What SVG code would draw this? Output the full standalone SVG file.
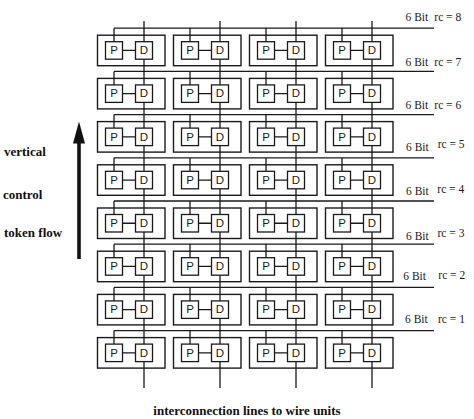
<svg xmlns="http://www.w3.org/2000/svg" xmlns:xlink="http://www.w3.org/1999/xlink" width="474" height="419" viewBox="0 0 474 419">
<style>
.bg{fill:#fff}
.ln{fill:none;stroke:#1a1a1a;stroke-width:1.3}
.outer{fill:none;stroke:#1a1a1a;stroke-width:1.4}
.unit{fill:#fff;stroke:#1a1a1a;stroke-width:1.3}
.pd{font-family:"Liberation Sans",Arial,sans-serif;font-size:11.5px;fill:#1a1a1a;text-anchor:middle}
.lab{font-family:"Liberation Serif","Times New Roman",serif;font-size:11.5px;fill:#1a1a1a}
.bold{font-family:"Liberation Serif","Times New Roman",serif;font-size:13px;font-weight:bold;fill:#111}
</style>
<defs>
<marker id="ah" viewBox="0 0 22 12" refX="0.5" refY="6" markerWidth="22" markerHeight="12" markerUnits="userSpaceOnUse" orient="auto">
<path d="M0 0L22 6L0 12Z" fill="#111"/>
</marker>
<g id="cell">
<rect class="outer" x="-46.5" y="0" width="67.5" height="30.5"/>
<rect class="unit" x="-38.5" y="6.5" width="17" height="17.5"/>
<text class="pd" x="-30" y="19">P</text>
<rect class="unit" x="-8.5" y="6.5" width="17" height="17.5"/>
<text class="pd" x="0" y="19">D</text>
</g>
</defs>
<rect class="bg" x="0" y="0" width="474" height="419"/>
<g id="connectors">
<path class="ln" d="M144 21V388M220 21V388M296 21V388M372 21V388"/>
<path class="ln" d="M114 28.2H434M114 28.2V41.7M190 28.2V41.7M266 28.2V41.7M342 28.2V41.7M122.5 50.45H135.5M198.5 50.45H211.5M274.5 50.45H287.5M350.5 50.45H363.5"/>
<path class="ln" d="M114 71.4H434M114 71.4V84.9M190 71.4V84.9M266 71.4V84.9M342 71.4V84.9M122.5 93.65H135.5M198.5 93.65H211.5M274.5 93.65H287.5M350.5 93.65H363.5"/>
<path class="ln" d="M114 114.6H434M114 114.6V128.1M190 114.6V128.1M266 114.6V128.1M342 114.6V128.1M122.5 136.85H135.5M198.5 136.85H211.5M274.5 136.85H287.5M350.5 136.85H363.5"/>
<path class="ln" d="M114 157.8H434M114 157.8V171.3M190 157.8V171.3M266 157.8V171.3M342 157.8V171.3M122.5 180.05H135.5M198.5 180.05H211.5M274.5 180.05H287.5M350.5 180.05H363.5"/>
<path class="ln" d="M114 201H434M114 201V214.5M190 201V214.5M266 201V214.5M342 201V214.5M122.5 223.25H135.5M198.5 223.25H211.5M274.5 223.25H287.5M350.5 223.25H363.5"/>
<path class="ln" d="M114 244.2H434M114 244.2V257.7M190 244.2V257.7M266 244.2V257.7M342 244.2V257.7M122.5 266.45H135.5M198.5 266.45H211.5M274.5 266.45H287.5M350.5 266.45H363.5"/>
<path class="ln" d="M114 287.4H434M114 287.4V300.9M190 287.4V300.9M266 287.4V300.9M342 287.4V300.9M122.5 309.65H135.5M198.5 309.65H211.5M274.5 309.65H287.5M350.5 309.65H363.5"/>
<path class="ln" d="M114 330.6H434M114 330.6V344.1M190 330.6V344.1M266 330.6V344.1M342 330.6V344.1M122.5 352.85H135.5M198.5 352.85H211.5M274.5 352.85H287.5M350.5 352.85H363.5"/>
<line id="token-arrow" x1="79" y1="259" x2="79" y2="143" stroke="#111" stroke-width="3.6" marker-end="url(#ah)"/>
</g>
<g id="pe-r8-c1"><use xlink:href="#cell" x="144" y="35.2"/></g>
<g id="pe-r8-c2"><use xlink:href="#cell" x="220" y="35.2"/></g>
<g id="pe-r8-c3"><use xlink:href="#cell" x="296" y="35.2"/></g>
<g id="pe-r8-c4"><use xlink:href="#cell" x="372" y="35.2"/></g>
<g id="pe-r7-c1"><use xlink:href="#cell" x="144" y="78.4"/></g>
<g id="pe-r7-c2"><use xlink:href="#cell" x="220" y="78.4"/></g>
<g id="pe-r7-c3"><use xlink:href="#cell" x="296" y="78.4"/></g>
<g id="pe-r7-c4"><use xlink:href="#cell" x="372" y="78.4"/></g>
<g id="pe-r6-c1"><use xlink:href="#cell" x="144" y="121.6"/></g>
<g id="pe-r6-c2"><use xlink:href="#cell" x="220" y="121.6"/></g>
<g id="pe-r6-c3"><use xlink:href="#cell" x="296" y="121.6"/></g>
<g id="pe-r6-c4"><use xlink:href="#cell" x="372" y="121.6"/></g>
<g id="pe-r5-c1"><use xlink:href="#cell" x="144" y="164.8"/></g>
<g id="pe-r5-c2"><use xlink:href="#cell" x="220" y="164.8"/></g>
<g id="pe-r5-c3"><use xlink:href="#cell" x="296" y="164.8"/></g>
<g id="pe-r5-c4"><use xlink:href="#cell" x="372" y="164.8"/></g>
<g id="pe-r4-c1"><use xlink:href="#cell" x="144" y="208"/></g>
<g id="pe-r4-c2"><use xlink:href="#cell" x="220" y="208"/></g>
<g id="pe-r4-c3"><use xlink:href="#cell" x="296" y="208"/></g>
<g id="pe-r4-c4"><use xlink:href="#cell" x="372" y="208"/></g>
<g id="pe-r3-c1"><use xlink:href="#cell" x="144" y="251.2"/></g>
<g id="pe-r3-c2"><use xlink:href="#cell" x="220" y="251.2"/></g>
<g id="pe-r3-c3"><use xlink:href="#cell" x="296" y="251.2"/></g>
<g id="pe-r3-c4"><use xlink:href="#cell" x="372" y="251.2"/></g>
<g id="pe-r2-c1"><use xlink:href="#cell" x="144" y="294.4"/></g>
<g id="pe-r2-c2"><use xlink:href="#cell" x="220" y="294.4"/></g>
<g id="pe-r2-c3"><use xlink:href="#cell" x="296" y="294.4"/></g>
<g id="pe-r2-c4"><use xlink:href="#cell" x="372" y="294.4"/></g>
<g id="pe-r1-c1"><use xlink:href="#cell" x="144" y="337.6"/></g>
<g id="pe-r1-c2"><use xlink:href="#cell" x="220" y="337.6"/></g>
<g id="pe-r1-c3"><use xlink:href="#cell" x="296" y="337.6"/></g>
<g id="pe-r1-c4"><use xlink:href="#cell" x="372" y="337.6"/></g>
<g id="bus-labels">
<text class="lab" x="405.5" y="20.7">6 Bit</text><text class="lab" x="434.3" y="21">rc = 8</text>
<text class="lab" x="405.5" y="66">6 Bit</text><text class="lab" x="434.3" y="66">rc = 7</text>
<text class="lab" x="405.5" y="109">6 Bit</text><text class="lab" x="434.3" y="109">rc = 6</text>
<text class="lab" x="406" y="150.7">6 Bit</text><text class="lab" x="437.7" y="148.3">rc = 5</text>
<text class="lab" x="406" y="195">6 Bit</text><text class="lab" x="437.3" y="192.7">rc = 4</text>
<text class="lab" x="406" y="240">6 Bit</text><text class="lab" x="437.5" y="236.7">rc = 3</text>
<text class="lab" x="403.3" y="280">6 Bit</text><text class="lab" x="438.3" y="279">rc = 2</text>
<text class="lab" x="405" y="323.3">6 Bit</text><text class="lab" x="438" y="323.3">rc = 1</text>
</g>
<g id="side-labels">
<text class="bold" x="4" y="155.5">vertical</text>
<text class="bold" x="3" y="199">control</text>
<text class="bold" x="4" y="237">token flow</text>
<text class="bold" x="153.3" y="414.5">interconnection lines to wire units</text>
</g>
</svg>
